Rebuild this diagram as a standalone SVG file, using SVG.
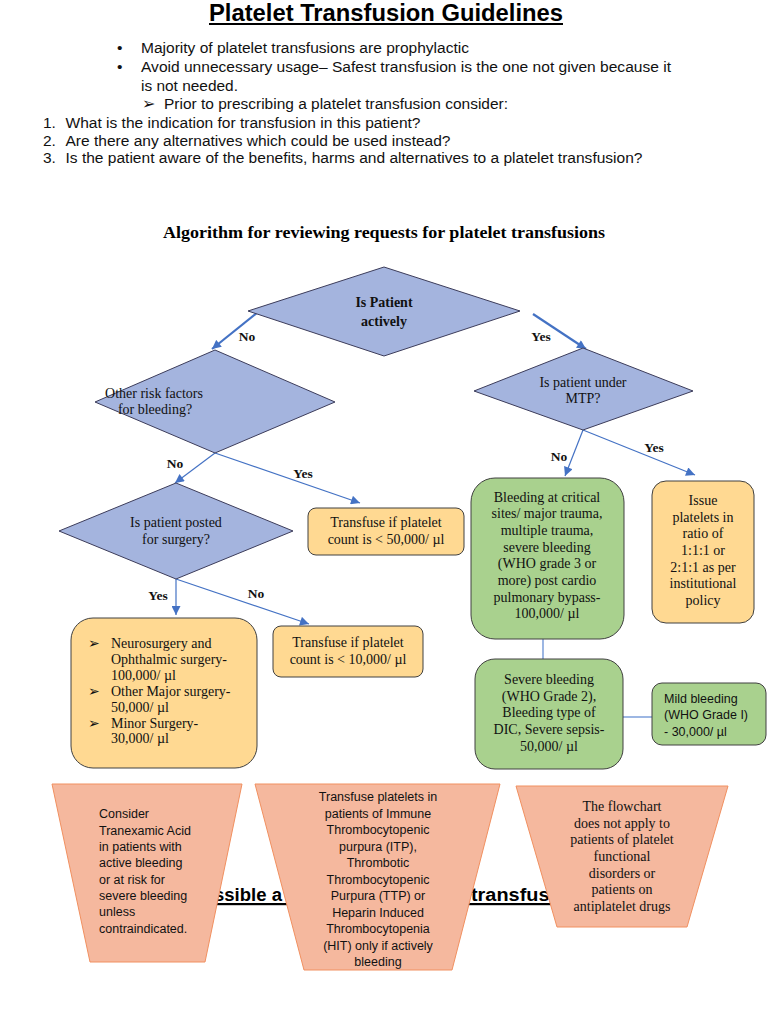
<svg xmlns="http://www.w3.org/2000/svg" width="768" height="1024" viewBox="0 0 768 1024">
<style>
.hdr{font-family:"Liberation Sans",Arial,sans-serif;font-size:15.5px;fill:#111}
.title{font-family:"Liberation Sans",Arial,sans-serif;font-size:23px;font-weight:bold;fill:#000}
.sub{font-family:"Liberation Serif","Times New Roman",serif;font-size:17px;font-weight:bold;fill:#000}
.dt{font-family:"Liberation Serif","Times New Roman",serif;font-size:14px;fill:#111;text-anchor:middle}
.bt{font-family:"Liberation Serif","Times New Roman",serif;font-size:14px;fill:#111}
.c{text-anchor:middle}
.lbl{font-family:"Liberation Serif","Times New Roman",serif;font-size:13.5px;font-weight:bold;fill:#111;text-anchor:middle}
.st{font-family:"Liberation Sans",Arial,sans-serif;font-size:12.5px;fill:#111}
.dia{fill:#A4B4DE;stroke:#3C3C5A;stroke-width:1}
.org{fill:#FFD992;stroke:#404040;stroke-width:1}
.grn{fill:#A9D18E;stroke:#404040;stroke-width:1}
.trap{fill:#F5B89E;stroke:#F19060;stroke-width:1}
.arr{stroke:#4472C4;fill:none;stroke-width:1.2;marker-end:url(#ah)}
.arrT{stroke:#4472C4;fill:none;stroke-width:2.2;marker-end:url(#ah)}
.ln{stroke:#5B86D0;fill:none;stroke-width:1.2}
.alt{font-family:"Liberation Sans",Arial,sans-serif;font-size:18px;font-weight:bold;fill:#000}
</style>
<defs>
<marker id="ah" viewBox="0 0 10 10" refX="10" refY="5" markerWidth="10" markerHeight="9" markerUnits="userSpaceOnUse" orient="auto">
<path d="M0,0 L10,5 L0,10 z" fill="#4472C4"/>
</marker>
</defs>
<rect width="768" height="1024" fill="#fff"/>

<g id="header">
<text class="title" x="209" y="21" textLength="354" lengthAdjust="spacingAndGlyphs">Platelet Transfusion Guidelines</text>
<rect x="209" y="23" width="354" height="2" fill="#000"/>
<text class="hdr" x="117" y="53">•</text>
<text class="hdr" x="141" y="53" textLength="328" lengthAdjust="spacingAndGlyphs">Majority of platelet transfusions are prophylactic</text>
<text class="hdr" x="117" y="72">•</text>
<text class="hdr" x="141" y="72" textLength="530" lengthAdjust="spacingAndGlyphs">Avoid unnecessary usage– Safest transfusion is the one not given because it</text>
<text class="hdr" x="141" y="91" textLength="97" lengthAdjust="spacingAndGlyphs">is not needed.</text>
<text class="hdr" x="142" y="109" font-size="13">➢</text>
<text class="hdr" x="164" y="109" textLength="344" lengthAdjust="spacingAndGlyphs">Prior to prescribing a platelet transfusion consider:</text>
<text class="hdr" x="43" y="128">1.</text>
<text class="hdr" x="65.5" y="128" textLength="355" lengthAdjust="spacingAndGlyphs">What is the indication for transfusion in this patient?</text>
<text class="hdr" x="43" y="146">2.</text>
<text class="hdr" x="65.5" y="146" textLength="385" lengthAdjust="spacingAndGlyphs">Are there any alternatives which could be used instead?</text>
<text class="hdr" x="43" y="163">3.</text>
<text class="hdr" x="65.5" y="163" textLength="577" lengthAdjust="spacingAndGlyphs">Is the patient aware of the benefits, harms and alternatives to a platelet transfusion?</text>
<text class="sub" x="163" y="238" textLength="442" lengthAdjust="spacingAndGlyphs">Algorithm for reviewing requests for platelet transfusions</text>
</g>

<g id="alt-heading">
<text class="alt" x="214" y="901" textLength="68" lengthAdjust="spacingAndGlyphs">ssible a</text>
<text class="alt" x="471" y="901" textLength="84" lengthAdjust="spacingAndGlyphs">transfusi</text>
<rect x="212" y="903" width="345" height="2.2" fill="#000"/>
</g>

<g id="connectors">
<line class="arrT" x1="258" y1="312" x2="212" y2="349"/>
<line class="arrT" x1="533" y1="314" x2="586" y2="349"/>
<line class="arr" x1="215" y1="453" x2="175" y2="483"/>
<line class="arr" x1="215" y1="453" x2="360" y2="503"/>
<line class="arr" x1="583" y1="430" x2="565" y2="476"/>
<line class="arr" x1="583" y1="430" x2="695" y2="475"/>
<line class="arr" x1="176" y1="579" x2="176" y2="615"/>
<line class="arr" x1="176" y1="579" x2="309" y2="624"/>
<line class="ln" x1="543" y1="639" x2="543" y2="659"/>
<line class="ln" x1="623" y1="717" x2="652" y2="717"/>
<text class="lbl" x="247" y="341">No</text>
<text class="lbl" x="541" y="341">Yes</text>
<text class="lbl" x="175" y="468">No</text>
<text class="lbl" x="303" y="478">Yes</text>
<text class="lbl" x="559" y="461">No</text>
<text class="lbl" x="654" y="452">Yes</text>
<text class="lbl" x="158" y="600">Yes</text>
<text class="lbl" x="256" y="598">No</text>
</g>

<g id="d-active">
<polygon class="dia" points="384,267 520,311 384,356 248,311"/>
<text class="dt" x="384" y="307" font-weight="bold" font-size="15">Is Patient</text>
<text class="dt" x="384" y="326" font-weight="bold" font-size="15">actively</text>
</g>

<g id="d-risk">
<polygon class="dia" points="215,350 335,402 215,453 95,402"/>
<text class="dt" x="154" y="398">Other risk factors</text>
<text class="dt" x="155" y="414">for bleeding?</text>
</g>

<g id="d-mtp">
<polygon class="dia" points="583,348 693,391 583,430 474,391"/>
<text class="dt" x="583" y="387">Is patient under</text>
<text class="dt" x="583" y="403">MTP?</text>
</g>

<g id="d-surgery">
<polygon class="dia" points="176,483 293,531 176,579 59,531"/>
<text class="dt" x="176" y="527">Is patient posted</text>
<text class="dt" x="176" y="544">for surgery?</text>
</g>

<g id="b-50k">
<rect class="org" x="308" y="508" width="156" height="47" rx="8"/>
<text class="bt c" x="386" y="527">Transfuse if platelet</text>
<text class="bt c" x="386" y="544">count is &lt; 50,000/ µl</text>
</g>

<g id="b-10k">
<rect class="org" x="273" y="626" width="150" height="51" rx="8"/>
<text class="bt c" x="348" y="647">Transfuse if platelet</text>
<text class="bt c" x="348" y="664">count is &lt; 10,000/ µl</text>
</g>

<g id="b-surgery">
<rect class="org" x="71" y="618" width="186" height="150" rx="22"/>
<text class="bt" x="88" y="648" font-size="12">➢</text>
<text class="bt" x="111" y="648">Neurosurgery and</text>
<text class="bt" x="111" y="664">Ophthalmic surgery-</text>
<text class="bt" x="111" y="680">100,000/ µl</text>
<text class="bt" x="88" y="696" font-size="12">➢</text>
<text class="bt" x="111" y="696">Other Major surgery-</text>
<text class="bt" x="111" y="712">50,000/ µl</text>
<text class="bt" x="88" y="728" font-size="12">➢</text>
<text class="bt" x="111" y="728">Minor Surgery-</text>
<text class="bt" x="111" y="743">30,000/ µl</text>
</g>

<g id="b-critical">
<rect class="grn" x="471" y="478" width="153" height="161" rx="24"/>
<text class="bt c" x="547" y="502">Bleeding at critical</text>
<text class="bt c" x="547" y="518">sites/ major trauma,</text>
<text class="bt c" x="547" y="535">multiple trauma,</text>
<text class="bt c" x="547" y="552">severe bleeding</text>
<text class="bt c" x="547" y="568">(WHO grade 3 or</text>
<text class="bt c" x="547" y="585">more) post cardio</text>
<text class="bt c" x="547" y="602">pulmonary bypass-</text>
<text class="bt c" x="547" y="618">100,000/ µl</text>
</g>

<g id="b-issue">
<rect class="org" x="652" y="481" width="102" height="142" rx="14"/>
<text class="bt c" x="703" y="505">Issue</text>
<text class="bt c" x="703" y="522">platelets in</text>
<text class="bt c" x="703" y="538">ratio of</text>
<text class="bt c" x="703" y="555">1:1:1 or</text>
<text class="bt c" x="703" y="572">2:1:1 as per</text>
<text class="bt c" x="703" y="588">institutional</text>
<text class="bt c" x="703" y="605">policy</text>
</g>

<g id="b-severe">
<rect class="grn" x="475" y="659" width="148" height="110" rx="20"/>
<text class="bt c" x="549" y="684">Severe bleeding</text>
<text class="bt c" x="549" y="701">(WHO Grade 2),</text>
<text class="bt c" x="549" y="717">Bleeding type of</text>
<text class="bt c" x="549" y="734">DIC, Severe sepsis-</text>
<text class="bt c" x="549" y="751">50,000/ µl</text>
</g>

<g id="b-mild">
<rect class="grn" x="652" y="683" width="114" height="62" rx="10"/>
<text class="st" x="664" y="703">Mild bleeding</text>
<text class="st" x="664" y="719">(WHO Grade I)</text>
<text class="st" x="664" y="736">- 30,000/ µl</text>
</g>

<g id="t-tranexamic">
<polygon class="trap" points="52,784 242,784 205,962 90,962"/>
<text class="st" x="99" y="818">Consider</text>
<text class="st" x="99" y="835">Tranexamic Acid</text>
<text class="st" x="99" y="851">in patients with</text>
<text class="st" x="99" y="867">active bleeding</text>
<text class="st" x="99" y="884">or at risk for</text>
<text class="st" x="99" y="900">severe bleeding</text>
<text class="st" x="99" y="916">unless</text>
<text class="st" x="99" y="933">contraindicated.</text>
</g>

<g id="t-itp">
<polygon class="trap" points="255,784 500,784 452,970 304,970"/>
<text class="st c" x="378" y="801">Transfuse platelets in</text>
<text class="st c" x="378" y="818">patients of Immune</text>
<text class="st c" x="378" y="834">Thrombocytopenic</text>
<text class="st c" x="378" y="851">purpura (ITP),</text>
<text class="st c" x="378" y="867">Thrombotic</text>
<text class="st c" x="378" y="884">Thrombocytopenic</text>
<text class="st c" x="378" y="900">Purpura (TTP) or</text>
<text class="st c" x="378" y="917">Heparin Induced</text>
<text class="st c" x="378" y="933">Thrombocytopenia</text>
<text class="st c" x="378" y="950">(HIT) only if actively</text>
<text class="st c" x="378" y="966">bleeding</text>
</g>

<g id="t-flowchart">
<polygon class="trap" points="516,786 728,786 687,927 557,927"/>
<text class="bt c" x="622" y="811">The flowchart</text>
<text class="bt c" x="622" y="828">does not apply to</text>
<text class="bt c" x="622" y="844">patients of platelet</text>
<text class="bt c" x="622" y="861">functional</text>
<text class="bt c" x="622" y="878">disorders or</text>
<text class="bt c" x="622" y="894">patients on</text>
<text class="bt c" x="622" y="911">antiplatelet drugs</text>
</g>
</svg>
